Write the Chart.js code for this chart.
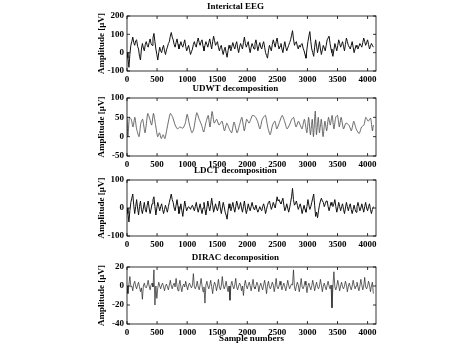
<!DOCTYPE html>
<html>
<head>
<meta charset="utf-8">
<script src="https://cdn.jsdelivr.net/npm/chart.js@4.4.0/dist/chart.umd.min.js"></script>
<style>
  html, body { margin: 0; padding: 0; background: #fff; }
  #wrap { position: relative; width: 474px; height: 346px; overflow: hidden; }
  #wrap canvas { position: absolute; left: 95px; }
</style>
</head>
<body>
<div id="wrap">
  <canvas id="eeg"></canvas>
  <canvas id="udwt"></canvas>
  <canvas id="ldct"></canvas>
  <canvas id="dirac"></canvas>
</div>
<script>
// data (sample index on x, amplitude in µV on y)
const STEP = 16; // samples between read-off points for the dense traces
const X_MAX = 4140;
const xTicks = [0, 500, 1000, 1500, 2000, 2500, 3000, 3500, 4000];

const eegValues = [
  0, -30, -80, -10, 40, 60, 85, 55, 40, 65, 70, 35, 20, -20, -40, 20, 50, 25, 10, 45, 60, 40, 30, 55, 75, 50, 40, 80, 105, 60, 20, -10,
  -40, 0, 30, 10, 0, 25, 40, 10, -10, 15, 30, 50, 60, 90, 110, 85, 70, 45, 30, 55, 75, 45, 20, 40, 60, 40, 30, 50, 70, 35, 10, 25,
  40, 15, -10, 5, 20, 45, 60, 40, 30, 60, 80, 55, 40, 60, 70, 35, 10, 40, 60, 45, 30, 55, 75, 45, 20, 60, 90, 65, 40, 50, 60, 30,
  10, 30, 40, 10, -10, 15, 30, 0, -25, 10, 40, 25, 10, 35, 55, 35, 20, 45, 60, 25, 0, 30, 50, 35, 20, 55, 85, 50, 30, 45, 60, 25,
  0, 30, 50, 35, 20, 50, 70, 40, 10, 35, 55, 30, 20, 45, 60, 30, 0, -15, -30, 10, 40, 25, 10, 45, 70, 50, 30, 60, 80, 45, 20, 35,
  50, 20, 0, 35, 60, 30, 10, 25, 40, 55, 70, 95, 120, 75, 40, 55, 60, 35, 20, 40, 30, 45, 50, 25, 10, -10, -30, 20, 60, 90, 115, 60,
  20, 0, -20, 30, 70, 35, 0, 30, 60, 20, -10, 15, 40, 25, 10, 40, 70, 80, 90, 50, 20, 0, -20, 15, 50, 30, 10, 40, 70, 50, 30, 45,
  60, 35, 10, 45, 80, 60, 40, 30, 20, 40, 60, 30, 0, 20, 40, 30, 20, 35, 50, 40, 30, 55, 80, 60, 40, 55, 70, 45, 20, 35, 50, 40, 30
];

const udwtSamples = [
  0, 15, 40, 70, 100, 130, 160, 200, 230, 260,
  300, 345, 380, 410, 440, 470, 510, 540, 570, 600,
  630, 670, 720, 760, 800, 840, 880, 930, 970, 1000,
  1040, 1080, 1110, 1160, 1200, 1240, 1275, 1310, 1350, 1380,
  1415, 1450, 1490, 1530, 1580, 1620, 1660, 1700, 1740, 1780,
  1830, 1870, 1910, 1950, 1990, 2030, 2085, 2130, 2170, 2210,
  2250, 2300, 2340, 2380, 2420, 2460, 2490, 2530, 2580, 2620,
  2660, 2700, 2740, 2770, 2810, 2850, 2880, 2910, 2950, 2990,
  3020, 3050, 3080, 3100, 3130, 3150, 3180, 3200, 3230, 3260,
  3290, 3320, 3350, 3380, 3410, 3440, 3470, 3500, 3530, 3560,
  3600, 3640, 3690, 3730, 3770, 3810, 3860, 3900, 3940, 3970,
  4010, 4050, 4080, 4096
];
const udwtValues = [
  50, 0, 50, 45, 25, 50, 20, 0, 35, 45,
  10, 60, 45, 30, 60, 35, 0, 10, -5, 5,
  -5, 25, 60, 50, 30, 20, 25, 22, 35, 58,
  30, 10, 20, 62, 45, 30, 12, 35, 55, 25,
  65, 35, 45, 30, 40, 15, 35, 20, 10, 38,
  10, 30, 50, 15, 45, 35, 55, 52, 40, 20,
  45, 55, 25, 5, 30, 40, 20, 35, 55, 40,
  20, 30, 45, 50, 25, 40, 30, 20, 45, 10,
  50, 5, 45, 0, 66, 5, 50, 10, 45, 0,
  40, 15, 50, 30, 55, 20, 50, 55, 25, 50,
  20, 35, 30, 15, 40, 20, 8, 25, 30, 50,
  40, 48, 15, 30
];

const ldctValues = [
  0, -20, -50, -10, 20, 35, 50, 10, -20, 5, 30, 0, -25, 5, 25, -5, -20, 0, 20, -5, -15, 10, 25, 0, -20, -5, 15, 30, 40, 5, -25, 0,
  20, 5, -10, 5, 15, -5, -20, -5, 10, -5, -15, 5, 20, 35, 50, 30, 20, 0, -10, 10, 30, 5, -20, -5, 15, -10, -30, 0, 25, 5, -10, 0,
  5, 0, -5, 5, 10, 0, -10, 5, 20, 0, -15, 0, 15, -5, -20, 0, 20, -5, -25, 0, 25, 5, -10, 10, 35, 10, -15, 0, 15, 0, -10, 5,
  25, 0, -20, 0, 20, 5, -15, -25, -40, -10, 15, 0, -10, 5, 20, 0, -15, 5, 25, 10, -5, 5, 20, 0, -15, 5, 25, 0, -20, -5, 15, 0,
  -10, 5, 20, 5, -5, 0, 10, -5, -15, -5, 5, -5, -10, 5, 15, 0, -20, -5, 10, 20, 25, 10, -5, 5, 20, 10, 0, 20, 40, 25, 30, 20,
  15, 25, 35, 10, -10, 0, 15, 0, -15, 0, 20, 40, 70, 30, 10, 15, 25, 10, -5, 5, 15, 0, -20, -5, 10, -5, -15, 5, 30, 10, -5, 5,
  20, 35, 50, 10, -30, -15, -35, -10, 10, 25, 35, 25, 20, 5, 15, 25, 25, 5, -10, 5, 20, 10, 5, 15, 30, 5, -15, 0, 20, 5, -10, 5,
  15, -5, -20, 0, 20, 5, -10, 5, 15, -5, -20, -5, 10, -5, -15, 5, 20, 5, -10, 0, 15, 0, -15, 5, 20, 0, -10, 5, 15, -5, -20, -5, 5
];

const diracValues = [
  0, -8, 2, 10, -1, 0, -5, 2, 5, 0, -3, 1, 4, -1, -6, -2, -14, 0, 3, -1, -2, 1, 6, 0, -4, 1, 3, -1, 17, -20, 0, -13,
  -2, 4, 0, -3, 1, 3, -1, -5, 0, 2, -1, -4, 1, 6, 0, -3, 1, 3, -1, 8, 0, -5, 1, 6, -1, -6, 0, 2, -1, 5, 0, -4,
  1, 3, 0, -2, 1, 13, -1, -3, 0, 5, -1, -4, 1, 8, 0, -6, -1, -18, 1, 5, 0, -3, 1, 6, -1, -8, 0, 4, 1, -5, 0, 7,
  -1, -4, 0, 10, 1, -3, 0, 5, -1, -6, 0, -15, 1, 5, 0, -3, 1, 8, -1, -4, 0, 3, 1, -5, 0, -10, 1, 6, 0, -3, 1, 4,
  0, -5, 1, 7, -1, -3, 0, 4, 1, -6, 0, 3, -1, -4, 1, 6, 0, -8, 1, 5, -1, -3, 0, 4, 1, -6, 0, 8, -1, -3, 0, 5,
  1, -4, 0, 3, -1, -5, 0, 6, 1, -3, 0, 2, 1, 17, -1, -5, 0, 4, 1, -6, 0, 8, -1, -3, 0, 5, 1, -7, 0, 3, -1, -4,
  0, 6, 1, -5, 0, 4, -1, -3, 0, 7, 1, -6, 0, 3, -1, -4, 1, 5, 0, -3, 1, -23, 0, 15, -1, -4, 0, 6, 1, -5, 0, 4,
  -1, -3, 0, 5, 1, -6, 0, 3, -1, -4, 0, 6, 1, -3, 0, 4, -1, -5, 0, 7, 1, -4, 0, 9, -1, -3, 0, 5, 1, -6, 0, 4, -8
];

const eegYTicks = [-100, 0, 100, 200];
const udwtYTicks = [-50, 0, 50, 100];
const ldctYTicks = [-100, 0, 100];
const diracYTicks = [-40, -20, 0, 20];

const SERIF = '"Liberation Serif", "Times New Roman", "DejaVu Serif", serif';
const bold9 = { family: SERIF, size: 9, weight: 'bold', lineHeight: 1.2 };

// MATLAB-like box with inward tick marks
const matlabBox = {
  id: 'matlabBox',
  afterDatasetsDraw(chart) {
    const { ctx, chartArea: a, scales } = chart;
    ctx.save();
    ctx.strokeStyle = '#000';
    ctx.lineWidth = 0.8;
    ctx.strokeRect(a.left, a.top, a.right - a.left, a.bottom - a.top);
    ctx.beginPath();
    scales.x.ticks.forEach(t => {
      const px = scales.x.getPixelForValue(t.value);
      ctx.moveTo(px, a.bottom); ctx.lineTo(px, a.bottom - 3);
      ctx.moveTo(px, a.top); ctx.lineTo(px, a.top + 3);
    });
    scales.y.ticks.forEach(t => {
      const py = scales.y.getPixelForValue(t.value);
      ctx.moveTo(a.left, py); ctx.lineTo(a.left + 3, py);
      ctx.moveTo(a.right, py); ctx.lineTo(a.right - 3, py);
    });
    ctx.stroke();
    ctx.restore();
  }
};

function makePanel(id, p) {
  const canvas = document.getElementById(id);
  canvas.width = 313;
  canvas.height = p.height;
  canvas.style.top = p.top + 'px';

  const points = p.x.map((s, i) => ({ x: s, y: p.y[i] }));

  return new Chart(canvas, {
    type: 'line',
    data: {
      datasets: [{
        data: points,
        borderColor: p.color,
        borderWidth: p.lineWidth || 0.8,
        pointRadius: 0,
        tension: p.tension || 0,
        fill: false
      }]
    },
    options: {
      responsive: false,
      animation: false,
      events: [],
      layout: { padding: { left: 0, right: 32, top: 0, bottom: 0 } },
      plugins: {
        legend: { display: false },
        tooltip: { enabled: false },
        title: {
          display: true,
          text: p.title,
          color: '#000',
          font: bold9,
          padding: { top: 1, bottom: 4.2 }
        }
      },
      scales: {
        x: {
          type: 'linear',
          min: 0,
          max: X_MAX,
          afterBuildTicks: s => { s.ticks = xTicks.map(v => ({ value: v })); },
          afterFit: s => { s.height = p.xAxisHeight; },
          grid: { display: false, drawTicks: false },
          border: { display: false },
          ticks: {
            color: '#000', font: bold9, padding: 3, autoSkip: false, maxRotation: 0,
            callback: v => String(v)
          },
          title: {
            display: !!p.xTitle,
            text: p.xTitle || '',
            color: '#000',
            font: bold9,
            padding: { top: 0, bottom: 1.6 }
          }
        },
        y: {
          min: p.yTicks[0],
          max: p.yTicks[p.yTicks.length - 1],
          afterBuildTicks: s => { s.ticks = p.yTicks.map(v => ({ value: v })); },
          afterFit: s => { s.width = 32; },
          grid: { display: false, drawTicks: false },
          border: { display: false },
          ticks: { color: '#000', font: bold9, padding: 3, callback: v => String(v) },
          title: {
            display: true,
            text: 'Amplitude [µV]',
            color: '#000',
            font: bold9,
            padding: { top: 1, bottom: 0 }
          }
        }
      }
    },
    plugins: [matlabBox]
  });
}

makePanel('eeg', {
  top: 0, height: 88, xAxisHeight: 17,
  title: 'Interictal EEG',
  x: eegValues.map((v, i) => i * STEP), y: eegValues,
  yTicks: eegYTicks, color: '#111', lineWidth: 1
});

makePanel('udwt', {
  top: 82, height: 91, xAxisHeight: 17,
  title: 'UDWT decomposition',
  x: udwtSamples, y: udwtValues,
  yTicks: udwtYTicks, color: '#444', tension: 0.2
});

makePanel('ldct', {
  top: 164, height: 89, xAxisHeight: 17,
  title: 'LDCT decomposition',
  x: ldctValues.map((v, i) => i * STEP), y: ldctValues,
  yTicks: ldctYTicks, color: '#111', lineWidth: 1
});

makePanel('dirac', {
  top: 251, height: 95, xAxisHeight: 22,
  title: 'DIRAC decomposition',
  x: diracValues.map((v, i) => i * STEP), y: diracValues,
  yTicks: diracYTicks, color: '#222', lineWidth: 0.7, xTitle: 'Sample numbers'
});
</script>
</body>
</html>
